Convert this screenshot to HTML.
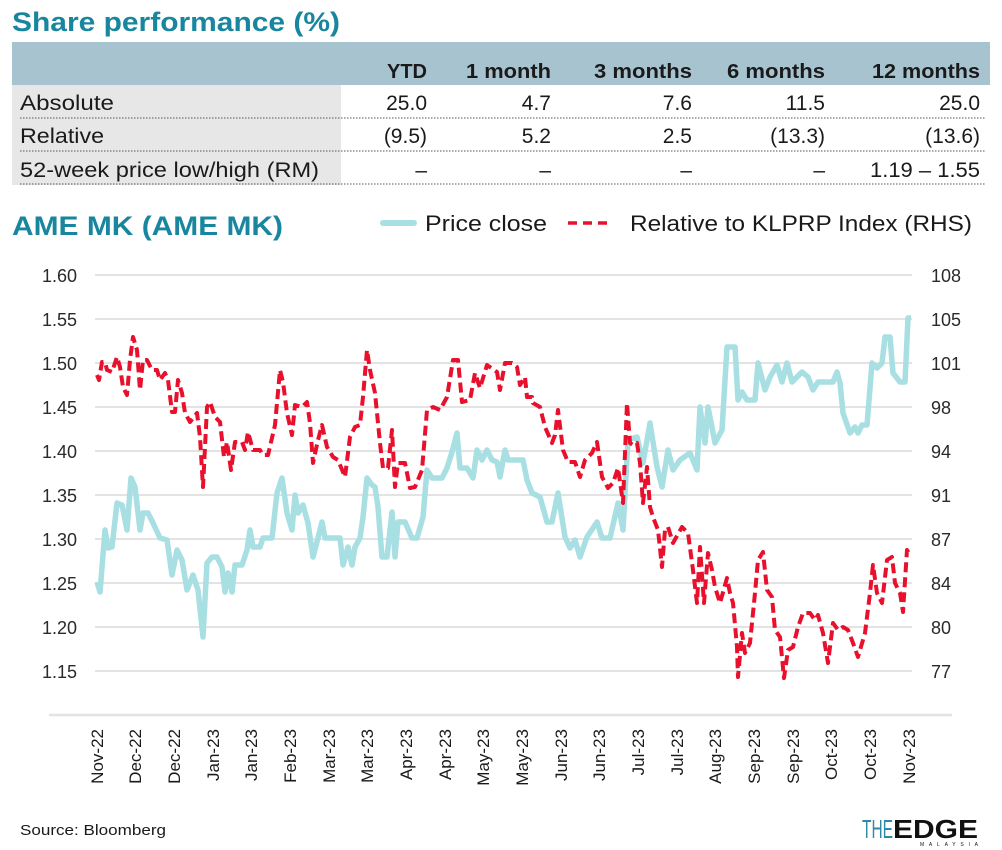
<!DOCTYPE html>
<html><head><meta charset="utf-8"><style>
html,body{margin:0;padding:0;background:#fff;}
svg{display:block;}
text{font-family:"Liberation Sans",sans-serif;}
</style></head><body>
<svg width="1002" height="850" viewBox="0 0 1002 850" xmlns="http://www.w3.org/2000/svg">
<text x="12" y="31" font-size="27" font-weight="bold" fill="#17869e" textLength="328" lengthAdjust="spacingAndGlyphs">Share performance (%)</text>
<rect x="12" y="42" width="978" height="43" fill="#a8c3d0"/>
<rect x="12" y="85" width="329" height="100" fill="#e7e7e7"/>
<g font-size="20" fill="#1a1a1a" font-weight="bold" text-anchor="end">
<text x="427" y="78">YTD</text>
<text x="551" y="78" textLength="85" lengthAdjust="spacingAndGlyphs">1 month</text>
<text x="692" y="78" textLength="98" lengthAdjust="spacingAndGlyphs">3 months</text>
<text x="825" y="78" textLength="98" lengthAdjust="spacingAndGlyphs">6 months</text>
<text x="980" y="78" textLength="108" lengthAdjust="spacingAndGlyphs">12 months</text>
</g>
<g font-size="21" fill="#1a1a1a">
<text x="20" y="110" textLength="94" lengthAdjust="spacingAndGlyphs">Absolute</text>
<text x="20" y="143" textLength="84" lengthAdjust="spacingAndGlyphs">Relative</text>
<text x="20" y="177" textLength="299" lengthAdjust="spacingAndGlyphs">52-week price low/high (RM)</text>
<g text-anchor="end">
<text x="427" y="110">25.0</text><text x="551" y="110">4.7</text><text x="692" y="110">7.6</text><text x="825" y="110">11.5</text><text x="980" y="110">25.0</text>
<text x="427" y="143">(9.5)</text><text x="551" y="143">5.2</text><text x="692" y="143">2.5</text><text x="825" y="143">(13.3)</text><text x="980" y="143">(13.6)</text>
<text x="427" y="177">–</text><text x="551" y="177">–</text><text x="692" y="177">–</text><text x="825" y="177">–</text><text x="980" y="177" textLength="110" lengthAdjust="spacingAndGlyphs">1.19 – 1.55</text>
</g></g>
<g stroke="#555" stroke-width="1" stroke-dasharray="1.5,1.5">
<line x1="20" y1="118" x2="985" y2="118"/><line x1="20" y1="151" x2="985" y2="151"/><line x1="20" y1="184" x2="985" y2="184"/>
</g>
<text x="12" y="235" font-size="27" font-weight="bold" fill="#17869e" textLength="271" lengthAdjust="spacingAndGlyphs">AME MK (AME MK)</text>
<line x1="383" y1="223" x2="414" y2="223" stroke="#a8dfe3" stroke-width="6" stroke-linecap="round"/>
<text x="425" y="231" font-size="22" fill="#1a1a1a" textLength="122" lengthAdjust="spacingAndGlyphs">Price close</text>
<line x1="568" y1="223" x2="613" y2="223" stroke="#e8102c" stroke-width="3.5" stroke-dasharray="9,6"/>
<text x="630" y="231" font-size="22" fill="#1a1a1a" textLength="342" lengthAdjust="spacingAndGlyphs">Relative to KLPRP Index (RHS)</text>
<g stroke="#dadada" stroke-width="1.5">
<line x1="95" y1="275" x2="912" y2="275"/><line x1="95" y1="319" x2="912" y2="319"/><line x1="95" y1="363" x2="912" y2="363"/><line x1="95" y1="407" x2="912" y2="407"/><line x1="95" y1="451" x2="912" y2="451"/><line x1="95" y1="495" x2="912" y2="495"/><line x1="95" y1="539" x2="912" y2="539"/><line x1="95" y1="583" x2="912" y2="583"/><line x1="95" y1="627" x2="912" y2="627"/><line x1="95" y1="671" x2="912" y2="671"/>
</g>
<line x1="49" y1="715" x2="952" y2="715" stroke="#e3e3e3" stroke-width="2.5"/>
<g font-size="18" fill="#2a2a2a" text-anchor="end">
<text x="77" y="282">1.60</text><text x="77" y="326">1.55</text><text x="77" y="370">1.50</text><text x="77" y="414">1.45</text><text x="77" y="458">1.40</text><text x="77" y="502">1.35</text><text x="77" y="546">1.30</text><text x="77" y="590">1.25</text><text x="77" y="634">1.20</text><text x="77" y="678">1.15</text>
</g>
<g font-size="18" fill="#2a2a2a">
<text x="931" y="282">108</text><text x="931" y="326">105</text><text x="931" y="370">101</text><text x="931" y="414">98</text><text x="931" y="458">94</text><text x="931" y="502">91</text><text x="931" y="546">87</text><text x="931" y="590">84</text><text x="931" y="634">80</text><text x="931" y="678">77</text>
</g>
<polyline fill="none" stroke="#a8dfe3" stroke-width="5.5" stroke-linejoin="round" points="97,582 100,592 105,530 108,548 112,547 117,503 122,505 127,530 131,478 135,487 140,530 143,513 148,513 153,523 160,538 167,540 172,575 177,550 182,560 187,590 193,575 198,590 203,637 207,563 212,557 217,557 222,567 225,592 228,573 232,592 235,565 242,565 247,550 250,530 253,547 260,547 263,538 272,538 277,493 282,478 287,513 292,530 295,495 298,513 303,505 308,523 313,557 318,538 322,522 325,538 340,538 343,565 348,547 352,565 355,547 360,538 363,517 367,478 372,485 375,487 378,507 382,557 387,557 392,512 395,557 398,522 405,522 412,538 417,538 423,517 427,470 432,478 442,478 447,468 452,452 457,433 460,468 467,468 473,478 477,450 482,460 487,450 492,460 497,462 500,477 505,450 508,460 523,460 527,480 532,493 540,497 547,522 552,522 558,493 565,537 570,548 575,540 580,557 587,537 597,522 602,538 610,538 618,503 623,530 628,440 637,437 643,463 650,423 657,467 662,487 668,450 673,470 680,460 690,453 697,470 700,407 705,443 708,407 715,443 722,430 727,347 735,347 738,400 742,392 747,400 755,400 758,363 765,390 770,377 777,365 782,382 787,363 792,382 802,372 808,377 813,390 818,382 833,382 837,372 840,383 843,413 850,433 855,427 858,433 862,425 867,425 872,363 877,368 882,363 885,337 890,337 893,373 900,382 905,382 908,318 911,318"/>
<polyline fill="none" stroke="#e8102c" stroke-width="4" stroke-dasharray="10,5" stroke-linejoin="round" points="97,375 99,380 102,362 105,362 107,370 112,372 117,357 120,367 123,387 127,395 130,360 133,337 137,350 140,390 143,360 147,360 152,370 157,370 160,380 165,373 168,380 172,412 175,412 178,380 182,393 185,413 190,422 197,413 200,437 203,487 207,407 210,402 215,417 220,422 224,457 227,442 231,470 235,442 242,442 245,450 248,432 253,450 260,450 263,455 268,455 275,425 280,370 283,382 287,413 292,435 295,405 302,407 307,402 310,423 313,463 318,440 322,425 327,447 333,457 338,460 345,477 350,437 355,427 360,425 363,397 367,350 370,370 375,393 380,443 383,468 388,468 392,430 395,487 398,463 405,463 410,488 415,487 422,470 427,410 433,407 440,410 447,397 453,360 458,360 462,402 470,400 475,373 480,388 487,365 497,372 500,390 505,363 512,363 517,367 520,385 525,377 527,397 532,397 533,403 540,407 545,427 552,443 555,435 558,410 563,450 568,462 575,462 580,477 585,460 592,453 597,442 602,477 608,488 613,483 618,468 623,503 627,403 630,443 633,445 637,443 640,463 643,503 647,467 650,507 653,517 658,530 662,567 665,530 668,527 673,543 682,527 688,533 693,570 697,603 700,547 704,603 708,553 712,570 715,587 720,603 727,578 730,593 733,603 737,647 738,677 742,633 745,653 750,643 755,593 758,560 763,552 767,590 772,597 775,630 780,637 784,678 788,650 793,647 798,627 803,613 810,613 815,620 818,615 823,633 828,663 833,623 838,630 843,627 848,630 853,643 858,657 865,633 870,593 873,565 877,593 882,603 887,560 892,557 895,583 900,593 903,612 907,550 910,555"/>
<g font-size="17" fill="#1a1a1a" text-anchor="end">
<text transform="translate(103,729) rotate(-90)">Nov-22</text>
<text transform="translate(141,729) rotate(-90)">Dec-22</text>
<text transform="translate(180,729) rotate(-90)">Dec-22</text>
<text transform="translate(219,729) rotate(-90)">Jan-23</text>
<text transform="translate(257,729) rotate(-90)">Jan-23</text>
<text transform="translate(296,729) rotate(-90)">Feb-23</text>
<text transform="translate(335,729) rotate(-90)">Mar-23</text>
<text transform="translate(373,729) rotate(-90)">Mar-23</text>
<text transform="translate(412,729) rotate(-90)">Apr-23</text>
<text transform="translate(451,729) rotate(-90)">Apr-23</text>
<text transform="translate(489,729) rotate(-90)">May-23</text>
<text transform="translate(528,729) rotate(-90)">May-23</text>
<text transform="translate(567,729) rotate(-90)">Jun-23</text>
<text transform="translate(605,729) rotate(-90)">Jun-23</text>
<text transform="translate(644,729) rotate(-90)">Jul-23</text>
<text transform="translate(683,729) rotate(-90)">Jul-23</text>
<text transform="translate(721,729) rotate(-90)">Aug-23</text>
<text transform="translate(760,729) rotate(-90)">Sep-23</text>
<text transform="translate(799,729) rotate(-90)">Sep-23</text>
<text transform="translate(837,729) rotate(-90)">Oct-23</text>
<text transform="translate(876,729) rotate(-90)">Oct-23</text>
<text transform="translate(915,729) rotate(-90)">Nov-23</text>
</g>
<text x="20" y="835" font-size="15" fill="#1a1a1a" textLength="146" lengthAdjust="spacingAndGlyphs">Source: Bloomberg</text>
<text x="862" y="838" font-size="26" fill="#2e8aa6" textLength="31" lengthAdjust="spacingAndGlyphs">THE</text>
<text x="893" y="838" font-size="26" font-weight="bold" fill="#111" textLength="85" lengthAdjust="spacingAndGlyphs">EDGE</text>
<text x="920" y="846" font-size="5" fill="#111" textLength="58" lengthAdjust="spacing">MALAYSIA</text>
</svg>
</body></html>
